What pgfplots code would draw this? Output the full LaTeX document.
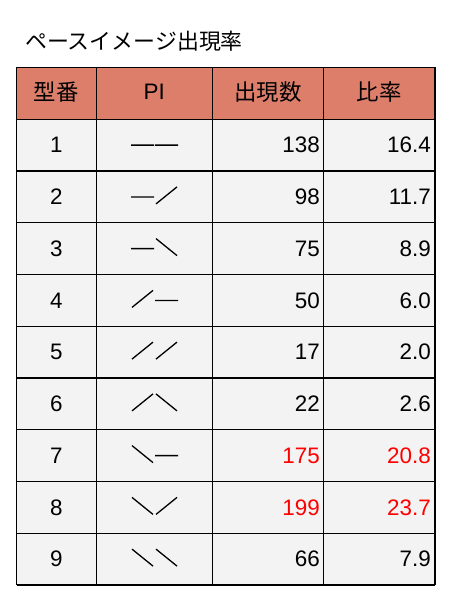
\documentclass[border=0pt]{standalone}
\usepackage{fontspec}
\setmainfont{Liberation Sans}
\newfontfamily\cjk{Noto Sans CJK JP}
\usepackage{pgfplots}
\usepackage{pgfplotstable}
\pgfplotsset{compat=1.18}

\definecolor{hdr}{HTML}{DD7E6B}
\definecolor{cellbg}{HTML}{F3F3F3}

% cell texts: x y label, in pixel coordinates (y down)
\pgfplotstableread{
x      y     label
56.25  92.0  {\cjk 型番}
154.25 92.0  PI
268.0  92.0  {\cjk 出現数}
379.25 92.0  {\cjk 比率}
}\headtab

\pgfplotstableread{
x      y      label
56.25  145.1  1
56.25  196.9  2
56.25  248.6  3
56.25  300.4  4
56.25  352.1  5
56.25  403.9  6
56.25  455.6  7
56.25  507.4  8
56.25  559.1  9
}\idtab

\pgfplotstableread{
y      n    r
145.1  138  16.4
196.9  98   11.7
248.6  75   8.9
300.4  50   6.0
352.1  17   2.0
403.9  22   2.6
559.1  66   7.9
}\blacktab

\pgfplotstableread{
y      n    r
455.6  175  20.8
507.4  199  23.7
}\redtab

% PI pattern strokes, segments separated by nan
\pgfplotstableread{
x    y
131  145.1
154  145.1
nan  nan
155  145.1
178  145.1
nan  nan
131  196.9
154  196.9
nan  nan
156  203.9
177  186.9
nan  nan
131  248.6
154  248.6
nan  nan
156  238.6
177  255.6
nan  nan
132  307.4
153  290.4
nan  nan
155  300.4
178  300.4
nan  nan
132  359.1
153  342.1
nan  nan
156  359.1
177  342.1
nan  nan
132  410.9
153  393.9
nan  nan
156  393.9
177  410.9
nan  nan
132  445.6
153  462.6
nan  nan
155  455.6
178  455.6
nan  nan
132  497.4
153  514.4
nan  nan
156  514.4
177  497.4
nan  nan
132  549.1
153  566.1
nan  nan
156  549.1
177  566.1
}\pitab

% grid lines
\pgfplotstableread{
x      y
16.5   67.5
435    67.5
nan    nan
16.5   119.25
435    119.25
nan    nan
16.5   171
435    171
nan    nan
16.5   222.75
435    222.75
nan    nan
16.5   274.5
435    274.5
nan    nan
16.5   326.25
435    326.25
nan    nan
16.5   378
435    378
nan    nan
16.5   429.75
435    429.75
nan    nan
16.5   481.5
435    481.5
nan    nan
16.5   533.25
435    533.25
nan    nan
16.5   585
435    585
nan    nan
16.5   67.5
16.5   585
nan    nan
96.3   67.5
96.3   585
nan    nan
212.5  67.5
212.5  585
nan    nan
323.5  67.5
323.5  585
nan    nan
435    67.5
435    585
}\gridtab

\pgfplotsset{
  cell text/.style={
    only marks, mark=none,
    nodes near coords,
    point meta=explicit symbolic,
    every node near coord/.style={anchor=#1, inner sep=0pt,
      font=\fontsize{22.5}{26}\selectfont, text=black},
  },
}

\begin{document}
\begin{tikzpicture}
\begin{axis}[
    width=451bp, height=603bp, scale only axis,
    xmin=0, xmax=451, ymin=0, ymax=603,
    y dir=reverse,
    hide axis, clip=false,
    unbounded coords=jump,
]
\addplot[draw=none] coordinates {(0,0) (451,603)};

% cell backgrounds
\addplot[fill=hdr, draw=none] coordinates {(16.5,67.5) (435,67.5) (435,119.25) (16.5,119.25) (16.5,67.5)};
\addplot[fill=cellbg, draw=none] coordinates {(16.5,119.25) (435,119.25) (435,585) (16.5,585) (16.5,119.25)};

\addplot[black, line width=1.2bp] table {\gridtab};
\addplot[black, line width=1.3bp] table {\pitab};

% title
\addplot[cell text=west, every node near coord/.append style={font=\cjk\fontsize{22}{26}\selectfont}]
  coordinates {(25,41) [ペースイメージ出現率]};

\addplot[cell text=center] table[x=x, y=y, meta=label] {\headtab};
\addplot[cell text=center] table[x=x, y=y, meta=label] {\idtab};
\addplot[cell text=east] table[x expr=320, y=y, meta=n] {\blacktab};
\addplot[cell text=east] table[x expr=431, y=y, meta=r] {\blacktab};
\addplot[cell text=east, every node near coord/.append style={text=red}] table[x expr=320, y=y, meta=n] {\redtab};
\addplot[cell text=east, every node near coord/.append style={text=red}] table[x expr=431, y=y, meta=r] {\redtab};
\end{axis}
\end{tikzpicture}
\end{document}
